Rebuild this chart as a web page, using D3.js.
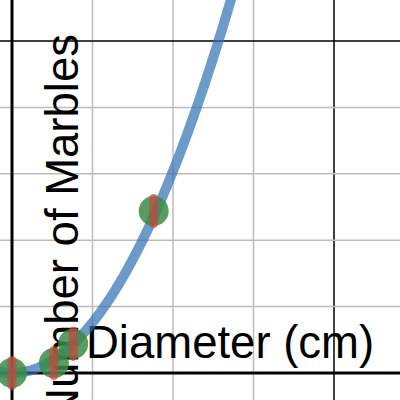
<!DOCTYPE html>
<html><head><meta charset="utf-8">
<script src="https://cdn.jsdelivr.net/npm/d3@7"></script>
<style>body{margin:0;background:#fff}</style>
</head><body>
<script>
var pointsX = [0, 0.52, 0.76, 1.76]
var pointsY = [0, 0.15, 0.44, 2.44]
var errY = [0.25, 0.25, 0.25, 0.25]
var curveA = 0.76
var xTicks = [1, 2, 3, 4]
var yTicks = [1, 2, 3, 4, 5]

var svg = d3.select('body').append('svg').attr('width', 400).attr('height', 400)
var x = d3.scaleLinear().domain([0, 1]).range([12, 92.5])
var y = d3.scaleLinear().domain([0, 1]).range([373, 306.6])

// grid
svg.selectAll('.gx').data(xTicks).enter().append('line')
  .attr('x1', x).attr('x2', x).attr('y1', 0).attr('y2', 400)
  .attr('stroke', function(d){ return d == 4 ? '#000' : '#bbb' })
  .attr('stroke-width', 1.5)
svg.selectAll('.gy').data(yTicks).enter().append('line')
  .attr('y1', y).attr('y2', y).attr('x1', 0).attr('x2', 400)
  .attr('stroke', function(d){ return d == 5 ? '#000' : '#bbb' })
  .attr('stroke-width', 1.5)
// axes
svg.append('line').attr('x1', x(0)).attr('x2', x(0)).attr('y1', 0).attr('y2', 400).attr('stroke', '#000').attr('stroke-width', 3)
svg.append('line').attr('x1', 0).attr('x2', 400).attr('y1', y(0)).attr('y2', y(0)).attr('stroke', '#000').attr('stroke-width', 3)

// labels
svg.append('text').attr('x', 86).attr('y', 358).attr('font-family', 'Liberation Sans, Arial, sans-serif')
  .attr('font-size', 45.5).text('Diameter (cm)')
svg.append('text').attr('transform', 'translate(78,34) rotate(-90)').attr('text-anchor', 'end')
  .attr('font-family', 'Liberation Sans, Arial, sans-serif').attr('font-size', 45.5).text('Number of Marbles')

// fitted curve
var xs = d3.range(-0.2, 3.01, 0.02)
svg.append('path').datum(xs)
  .attr('d', d3.line().x(function(d){ return x(d) }).y(function(d){ return y(curveA * d * d) }))
  .attr('fill', 'none').attr('stroke', '#2d70b3').attr('stroke-opacity', 0.7).attr('stroke-width', 10)

var pts = pointsX.map(function(d, i){ return {x: d, y: pointsY[i], e: errY[i]} })
svg.selectAll('.pt').data(pts).enter().append('circle')
  .attr('cx', function(d){ return x(d.x) }).attr('cy', function(d){ return y(d.y) })
  .attr('r', 15).attr('fill', '#388c46').attr('fill-opacity', 0.85)
svg.selectAll('.eb').data(pts).enter().append('line')
  .attr('x1', function(d){ return x(d.x) }).attr('x2', function(d){ return x(d.x) })
  .attr('y1', function(d){ return y(d.y + d.e) + 4 }).attr('y2', function(d){ return y(d.y - d.e) - 4 })
  .attr('stroke', '#c74440').attr('stroke-opacity', 0.7).attr('stroke-width', 9).attr('stroke-linecap', 'round')
</script>
</body></html>
